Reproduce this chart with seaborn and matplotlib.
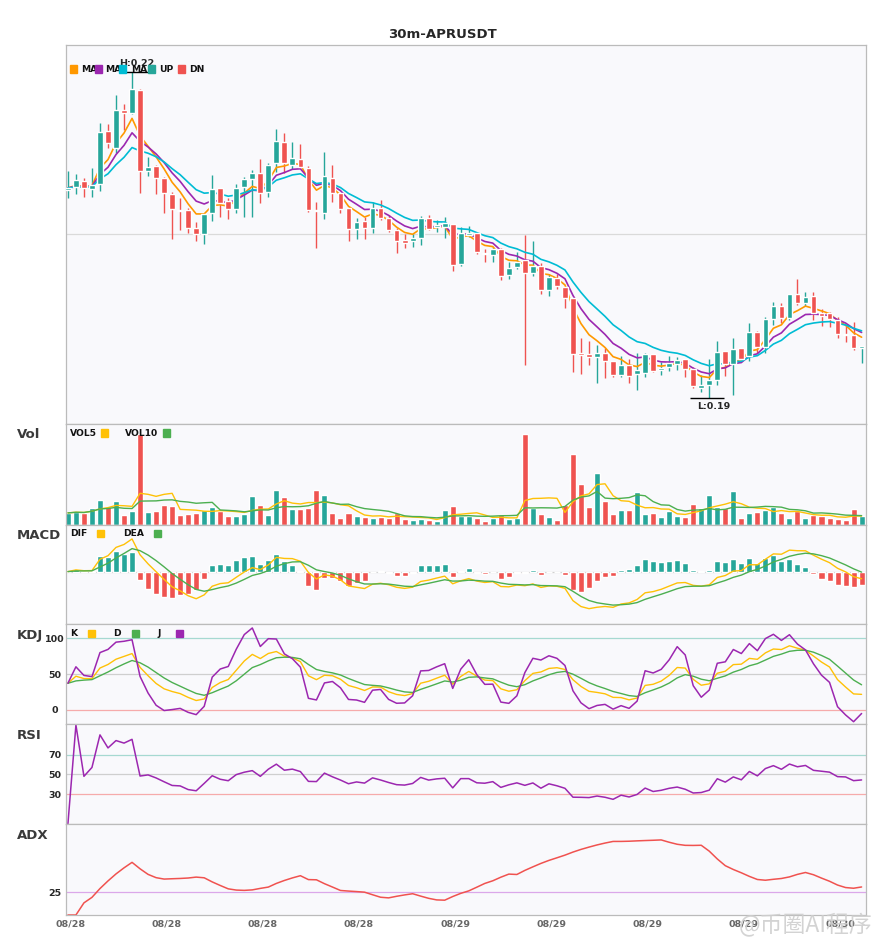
import numpy as np
import pandas as pd
import matplotlib

matplotlib.use("Agg")
import matplotlib.pyplot as plt
import seaborn as sns
from matplotlib.patches import Rectangle

# ---- data (30m candles, 100 bars) ----
SYMBOL = "30m-APRUSDT"

OPEN = [0.2125, 0.2128, 0.2134, 0.2126, 0.2131, 0.2184, 0.2167, 0.2205, 0.2202, 0.2225,
        0.2144, 0.2149, 0.2137, 0.2121, 0.2105, 0.2105, 0.2087, 0.2081, 0.2102, 0.2127,
        0.2114, 0.2106, 0.2128, 0.2136, 0.2142, 0.2123, 0.2152, 0.2173, 0.2150, 0.2156,
        0.2147, 0.2105, 0.2102, 0.2137, 0.2122, 0.2107, 0.2086, 0.2094, 0.2087, 0.2107,
        0.2097, 0.2085, 0.2075, 0.2074, 0.2077, 0.2097, 0.2088, 0.2088, 0.2091, 0.2051,
        0.2080, 0.2082, 0.2062, 0.2060, 0.2066, 0.2040, 0.2048, 0.2055, 0.2042, 0.2049,
        0.2025, 0.2037, 0.2028, 0.2017, 0.1962, 0.1961, 0.1958, 0.1962, 0.1954, 0.1940,
        0.1950, 0.1941, 0.1942, 0.1961, 0.1945, 0.1948, 0.1951, 0.1956, 0.1946, 0.1927,
        0.1930, 0.1935, 0.1964, 0.1951, 0.1967, 0.1959, 0.1983, 0.1968, 0.1996, 0.2009,
        0.1997, 0.2021, 0.2012, 0.2019, 0.2002, 0.2002, 0.1995, 0.1981, 0.1980, 0.1967]
CLOSE = [0.2127, 0.2135, 0.2127, 0.2130, 0.2183, 0.2172, 0.2205, 0.2202, 0.2226, 0.2144,
         0.2148, 0.2137, 0.2122, 0.2106, 0.2104, 0.2087, 0.2081, 0.2101, 0.2126, 0.2112,
         0.2106, 0.2127, 0.2136, 0.2142, 0.2122, 0.2150, 0.2174, 0.2152, 0.2157, 0.2148,
         0.2105, 0.2104, 0.2139, 0.2122, 0.2106, 0.2086, 0.2093, 0.2087, 0.2107, 0.2097,
         0.2085, 0.2074, 0.2072, 0.2077, 0.2097, 0.2086, 0.2090, 0.2092, 0.2050, 0.2082,
         0.2082, 0.2063, 0.2061, 0.2066, 0.2039, 0.2047, 0.2053, 0.2042, 0.2049, 0.2025,
         0.2038, 0.2029, 0.2017, 0.1961, 0.1960, 0.1958, 0.1962, 0.1954, 0.1940, 0.1950,
         0.1939, 0.1945, 0.1961, 0.1944, 0.1947, 0.1952, 0.1955, 0.1946, 0.1929, 0.1930,
         0.1935, 0.1963, 0.1951, 0.1966, 0.1956, 0.1983, 0.1968, 0.1996, 0.2009, 0.1997,
         0.2021, 0.2012, 0.2018, 0.2002, 0.1999, 0.1996, 0.1981, 0.1980, 0.1967, 0.1969]
HIGH = [0.2144, 0.2141, 0.2137, 0.2147, 0.2192, 0.2191, 0.2220, 0.2211, 0.2243, 0.2226,
        0.2158, 0.2150, 0.2138, 0.2123, 0.2117, 0.2107, 0.2093, 0.2101, 0.2140, 0.2127,
        0.2117, 0.2131, 0.2138, 0.2145, 0.2156, 0.2152, 0.2186, 0.2182, 0.2173, 0.2171,
        0.2149, 0.2113, 0.2163, 0.2150, 0.2122, 0.2108, 0.2097, 0.2098, 0.2113, 0.2115,
        0.2100, 0.2087, 0.2081, 0.2081, 0.2099, 0.2100, 0.2095, 0.2098, 0.2091, 0.2088,
        0.2089, 0.2082, 0.2066, 0.2068, 0.2067, 0.2053, 0.2063, 0.2080, 0.2074, 0.2052,
        0.2041, 0.2041, 0.2028, 0.2017, 0.1977, 0.1974, 0.1970, 0.1967, 0.1954, 0.1959,
        0.1956, 0.1962, 0.1962, 0.1961, 0.1953, 0.1959, 0.1958, 0.1956, 0.1948, 0.1940,
        0.1956, 0.1974, 0.1964, 0.1977, 0.1967, 0.1992, 0.1984, 0.1998, 0.2013, 0.2012,
        0.2021, 0.2036, 0.2023, 0.2023, 0.2006, 0.2003, 0.1998, 0.1990, 0.1993, 0.1969]
LOW = [0.2117, 0.2121, 0.2118, 0.2118, 0.2124, 0.2167, 0.2162, 0.2185, 0.2201, 0.2122,
       0.2139, 0.2121, 0.2102, 0.2076, 0.2085, 0.2082, 0.2074, 0.2071, 0.2094, 0.2098,
       0.2096, 0.2102, 0.2098, 0.2098, 0.2112, 0.2118, 0.2143, 0.2142, 0.2146, 0.2147,
       0.2103, 0.2067, 0.2096, 0.2113, 0.2102, 0.2074, 0.2076, 0.2076, 0.2082, 0.2095,
       0.2083, 0.2062, 0.2067, 0.2068, 0.2070, 0.2085, 0.2083, 0.2077, 0.2044, 0.2049,
       0.2078, 0.2061, 0.2053, 0.2053, 0.2035, 0.2036, 0.2046, 0.1950, 0.2039, 0.2021,
       0.2019, 0.2026, 0.2007, 0.1943, 0.1941, 0.1950, 0.1932, 0.1937, 0.1938, 0.1938,
       0.1932, 0.1925, 0.1938, 0.1943, 0.1940, 0.1944, 0.1945, 0.1938, 0.1927, 0.1923,
       0.1917, 0.1930, 0.1939, 0.1920, 0.1955, 0.1954, 0.1962, 0.1962, 0.1990, 0.1992,
       0.1995, 0.2010, 0.2009, 0.1995, 0.1989, 0.1988, 0.1977, 0.1973, 0.1965, 0.1952]
VOLUME_K = [120, 133, 120, 173, 253, 183, 243, 103, 143, 900,
            133, 143, 203, 193, 103, 113, 123, 153, 183, 143,
            93, 93, 113, 283, 203, 103, 343, 273, 163, 163,
            173, 343, 293, 123, 73, 123, 93, 83, 73, 83,
            73, 123, 63, 53, 63, 53, 43, 153, 193, 93,
            93, 73, 43, 73, 103, 63, 73, 903, 173, 113,
            83, 53, 203, 703, 403, 183, 513, 243, 113, 153,
            153, 323, 113, 123, 83, 143, 93, 83, 213, 173,
            293, 183, 173, 333, 73, 123, 133, 153, 183, 123,
            73, 143, 73, 103, 93, 73, 63, 53, 163, 93]

MA_SPANS = [5, 8, 13]
MACD_FAST, MACD_SLOW, MACD_SIGNAL = 5, 13, 5
TICK_STEP = 12
DATE_LABELS = ["08/28", "08/28", "08/28", "08/28", "08/29", "08/29", "08/29", "08/29", "08/30"]
PRICE_GRID = 0.2081

UP, DN = "#26a69a", "#ef5350"
MA_COLORS = ["#ff9800", "#9c27b0", "#00bcd4"]
YEL, GRN, PUR = "#ffc107", "#4caf50", "#9c27b0"
BG = "#f9f9fc"
SPINE = "#bbbbbb"

df = pd.DataFrame({"open": OPEN, "high": HIGH, "low": LOW, "close": CLOSE, "vol": VOLUME_K})
idx = np.arange(len(df))
rising = df["close"] >= df["open"]
bar_colors = np.where(rising, UP, DN)

# ---- indicators ----
for n in MA_SPANS:
    df[f"ma{n}"] = df["close"].ewm(span=n, adjust=False).mean()
df["vol5"] = df["vol"].rolling(5, min_periods=1).mean()
df["vol10"] = df["vol"].rolling(10, min_periods=1).mean()

ema_fast = df["close"].ewm(span=MACD_FAST, adjust=False).mean()
ema_slow = df["close"].ewm(span=MACD_SLOW, adjust=False).mean()
df["dif"] = ema_fast - ema_slow
df["dea"] = df["dif"].ewm(span=MACD_SIGNAL, adjust=False).mean()
df["hist"] = 2 * (df["dif"] - df["dea"])

low9 = df["low"].rolling(9, min_periods=1).min()
high9 = df["high"].rolling(9, min_periods=1).max()
rsv = (df["close"] - low9) / (high9 - low9) * 100
df["k"] = rsv.ewm(com=2, adjust=False).mean()
df["d"] = df["k"].ewm(com=2, adjust=False).mean()
df["j"] = 3 * df["k"] - 2 * df["d"]

delta = df["close"].diff().fillna(0)
gain = delta.clip(lower=0).ewm(alpha=1 / 14, adjust=False).mean()
loss = (-delta.clip(upper=0)).ewm(alpha=1 / 14, adjust=False).mean()
df["rsi"] = (100 * gain / (gain + loss)).fillna(0)

up_move = df["high"].diff()
dn_move = -df["low"].diff()
pdm = pd.Series(np.where((up_move > dn_move) & (up_move > 0), up_move, 0.0))
mdm = pd.Series(np.where((dn_move > up_move) & (dn_move > 0), dn_move, 0.0))
prev_close = df["close"].shift()
tr = pd.concat([df["high"] - df["low"], (df["high"] - prev_close).abs(),
                (df["low"] - prev_close).abs()], axis=1).max(axis=1)
atr = tr.ewm(span=14, adjust=False).mean()
pdi = 100 * pdm.ewm(span=14, adjust=False).mean() / atr
mdi = 100 * mdm.ewm(span=14, adjust=False).mean() / atr
dx = ((pdi - mdi).abs() / (pdi + mdi) * 100).fillna(0)
df["adx"] = dx.ewm(span=14, adjust=False).mean()

# ---- figure ----
sns.set_theme(style="white")
plt.rcParams["font.family"] = ["DejaVu Sans"]
W, H = 885, 950
fig = plt.figure(figsize=(W / 100, H / 100), dpi=100)
fig.patch.set_facecolor("white")


def fx(px):
    return px / W


def fy(py):
    return 1 - py / H


def panel(top, bottom):
    ax = fig.add_axes([fx(65.5), fy(bottom), fx(866 - 65.5), (bottom - top) / H])
    ax.set_facecolor(BG)
    for s in ax.spines.values():
        s.set_color(SPINE)
        s.set_linewidth(0.9)
    ax.tick_params(length=0)
    ax.set_xticks([])
    ax.set_yticks([])
    return ax


def legend_row(y, entries):
    for text, tx, sx, color in entries:
        fig.text(fx(tx), fy(y), text, fontsize=6.6, fontweight="bold", va="center", ha="left",
                 color="#111111")
        fig.add_artist(Rectangle((fx(sx), fy(y + 3.7)), 7.4 / W, 7.4 / H,
                                 transform=fig.transFigure, color=color, zorder=5))


def level_lines(ax, levels):
    for v, c in levels:
        ax.axhline(v, color=c, lw=0.9, zorder=0)
    ax.set_yticks([v for v, _ in levels])
    ax.set_yticklabels([str(v) for v, _ in levels], fontsize=6.8, fontweight="bold", ha="center")
    ax.tick_params(axis="y", pad=7.5, length=0)


def line(ax, col, color, lw=1.1):
    sns.lineplot(x=idx, y=df[col].to_numpy(), ax=ax, color=color, lw=lw, legend=False)
    ax.set_xlabel("")
    ax.set_ylabel("")


ax_p = panel(45, 424)
ax_v = panel(424, 525)
ax_m = panel(525, 624)
ax_k = panel(624, 724)
ax_r = panel(724, 824)
ax_a = panel(824, 915)

# price
ax_p.axhline(PRICE_GRID, color="#dadada", lw=0.9, zorder=0)
ax_p.vlines(idx, df["low"], df["high"], colors=bar_colors, lw=1.0, zorder=2)
body = (df["close"] - df["open"]).abs().clip(lower=0.00012)
ax_p.bar(idx, body, bottom=df[["open", "close"]].min(axis=1), width=0.72,
         color=bar_colors, zorder=3)
for n, c in zip(MA_SPANS, MA_COLORS):
    line(ax_p, f"ma{n}", c, 1.2)
rng = df["high"].max() - df["low"].min()
ax_p.set_ylim(df["low"].min() - 0.08 * rng, df["high"].max() + 0.083 * rng)
ax_p.set_yticks([])
hi_i, lo_i = int(df["high"].idxmax()), int(df["low"].idxmin())
hi_v, lo_v = df["high"].max(), df["low"].min()
ax_p.hlines(hi_v, hi_i - 1.6, hi_i + 2.6, color="black", lw=1.0, zorder=4)
ax_p.annotate(f"H:{hi_v:.2f}", (hi_i + 0.6, hi_v), xytext=(0, 6), textcoords="offset points",
              ha="center", va="center", fontsize=6.8, fontweight="bold")
ax_p.hlines(lo_v, lo_i - 2.4, lo_i + 1.9, color="black", lw=1.0, zorder=4)
ax_p.annotate(f"L:{lo_v:.2f}", (lo_i + 0.5, lo_v), xytext=(0, -6.5), textcoords="offset points",
              ha="center", va="center", fontsize=6.8, fontweight="bold")

# volume
ax_v.bar(idx, df["vol"], width=0.75, color=bar_colors, zorder=2)
line(ax_v, "vol5", YEL, 1.0)
line(ax_v, "vol10", GRN, 1.0)
ax_v.set_ylim(0, df["vol"].max() * 1.11)
ax_v.set_yticks([])

# macd
ax_m.axhline(0, color="#d0d0d0", lw=0.9, zorder=0)
ax_m.bar(idx, df["hist"], width=0.75, color=np.where(df["hist"] >= 0, UP, DN), zorder=2)
line(ax_m, "dif", YEL, 1.0)
line(ax_m, "dea", GRN, 1.0)
lo_m = df[["dif", "dea", "hist"]].min().min()
hi_m = df[["dif", "dea", "hist"]].max().max()
r_m = hi_m - lo_m
ax_m.set_ylim(lo_m - 0.22 * r_m, hi_m + 0.2 * r_m)
ax_m.set_yticks([])

# kdj
line(ax_k, "k", YEL, 1.0)
line(ax_k, "d", GRN, 1.0)
line(ax_k, "j", PUR, 1.1)
ax_k.set_ylim(-20, 120)
level_lines(ax_k, [(100, "#a6d9d1"), (50, "#cfcfcf"), (0, "#f6abab")])

# rsi
line(ax_r, "rsi", PUR, 1.1)
ax_r.set_ylim(0, 101)
level_lines(ax_r, [(70, "#a6d9d1"), (50, "#cfcfcf"), (30, "#f6abab")])

# adx
line(ax_a, "adx", "#f0524f", 1.1)
ax_a.set_ylim(0, 100)
level_lines(ax_a, [(25, "#dba8ea")])

for ax in (ax_p, ax_v, ax_m, ax_k, ax_r, ax_a):
    ax.set_xlim(-0.3, 99.55)
ax_a.set_xticks(idx[::TICK_STEP] + 0.3)
ax_a.set_xticklabels(DATE_LABELS, fontsize=6.8, fontweight="bold", color="#666666")
ax_a.tick_params(axis="x", pad=3, length=0)

# titles and labels
fig.text(0.5, fy(34), SYMBOL, ha="center", va="center", fontsize=9.5, fontweight="bold")
for name, y in [("Vol", 435), ("MACD", 535.5), ("KDJ", 635.5), ("RSI", 735.5), ("ADX", 835.5)]:
    fig.text(fx(17), fy(y), name, ha="left", va="center", fontsize=9.5, fontweight="bold",
             color="#3a3a3a")

legend_row(69, [("MA", 81, 70, MA_COLORS[0]), ("MA", 105, 94.5, MA_COLORS[1]),
                ("MA", 131, 118.5, MA_COLORS[2]), ("UP", 159, 148, UP), ("DN", 189, 178, DN)])
legend_row(433, [("VOL5", 70, 101, YEL), ("VOL10", 125, 163, GRN)])
legend_row(533.5, [("DIF", 70, 97, YEL), ("DEA", 123, 153.5, GRN)])
legend_row(633.3, [("K", 70, 87.5, YEL), ("D", 113, 131.5, GRN), ("J", 157, 175.5, PUR)])

# watermark
fig.text(fx(806), fy(925), "@币圈AI程序", ha="center", va="center", fontsize=16.5,
         color="#cfcfcf", alpha=0.9, family=["Noto Sans CJK SC", "DejaVu Sans"])

fig.savefig("out.png", dpi=100, facecolor="white")
